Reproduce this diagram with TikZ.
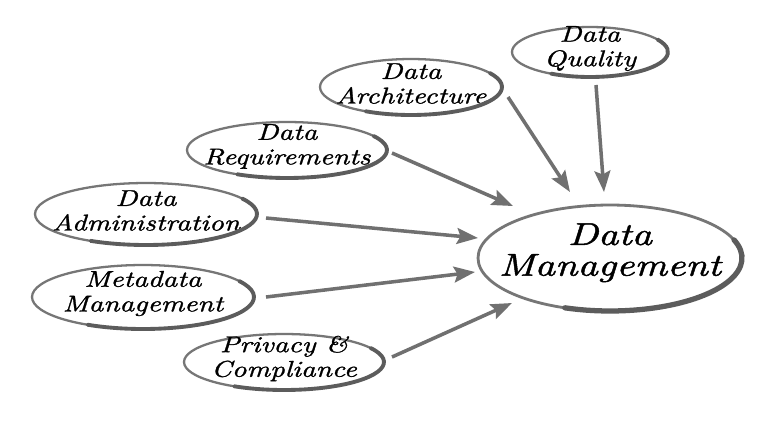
\documentclass[tikz,border=0pt]{standalone}
\usepackage{fontspec}
\newfontfamily\hand[FakeStretch=1.26,FakeBold=1.2]{lmroman10-italic.otf}
\newfontfamily\handbig[FakeStretch=1.26,FakeBold=1.4]{lmroman10-italic.otf}
\usetikzlibrary{shapes.geometric,arrows.meta}
\definecolor{rim}{HTML}{767676}
\definecolor{rimdark}{HTML}{5C5C5C}
\definecolor{arr}{HTML}{707070}
\begin{document}
\begin{tikzpicture}[x=0.02cm,y=-0.02cm,
  oval/.style={ellipse,draw=rim,line width=1.3pt,inner sep=0pt},
  txt/.style={align=center,inner sep=0pt,yshift=2pt,font=\hand\fontsize{13}{14}\selectfont},
  big/.style={align=center,inner sep=0pt,yshift=3pt,font=\handbig\fontsize{18}{17.5}\selectfont},
  crescent/.style={draw=rimdark,line width=2.2pt,line cap=round},
  link/.style={draw=arr,line width=2pt,-{Stealth[length=12pt,width=9pt,inset=2pt]}}]
\useasboundingbox (0,0) rectangle (768,434);
\fill[white] (0,0) rectangle (768,434);
\node[oval,minimum width=3.12cm,minimum height=1.0cm,
  label={[txt]center:Data\\Quality}] (q) at (590,52) {};
\node[oval,minimum width=3.64cm,minimum height=1.12cm,
  label={[txt]center:Data\\Architecture}] (a) at (411,87) {};
\node[oval,minimum width=4.0cm,minimum height=1.12cm,
  label={[txt]center:Data\\Requirements}] (r) at (287,150) {};
\node[oval,minimum width=4.44cm,minimum height=1.24cm,
  label={[txt]center:Data\\Administration}] (ad) at (146,214) {};
\node[oval,minimum width=4.44cm,minimum height=1.28cm,
  label={[txt]center:Metadata\\Management}] (m) at (143,297) {};
\node[oval,minimum width=4.0cm,minimum height=1.12cm,
  label={[txt]center:Privacy \&\\Compliance}] (p) at (284,362) {};
\node[oval,line width=1.6pt,minimum width=5.28cm,minimum height=2.12cm,
  label={[big]center:Data\\Management}] (dm) at (610,258) {};
% heavier lower-right rims
\draw[crescent] (q.center) ++(30:1.56cm and 0.5cm) arc[start angle=30,end angle=-120,x radius=1.56cm,y radius=0.5cm];
\draw[crescent] (a.center) ++(30:1.82cm and 0.56cm) arc[start angle=30,end angle=-120,x radius=1.82cm,y radius=0.56cm];
\draw[crescent] (r.center) ++(30:2.0cm and 0.56cm) arc[start angle=30,end angle=-120,x radius=2.0cm,y radius=0.56cm];
\draw[crescent] (ad.center) ++(30:2.22cm and 0.62cm) arc[start angle=30,end angle=-120,x radius=2.22cm,y radius=0.62cm];
\draw[crescent] (m.center) ++(30:2.22cm and 0.64cm) arc[start angle=30,end angle=-120,x radius=2.22cm,y radius=0.64cm];
\draw[crescent] (p.center) ++(30:2.0cm and 0.56cm) arc[start angle=30,end angle=-120,x radius=2.0cm,y radius=0.56cm];
\draw[crescent,line width=3pt] (dm.center) ++(20:2.64cm and 1.06cm) arc[start angle=20,end angle=-110,x radius=2.64cm,y radius=1.06cm];
\draw[link] ([shift={(6,33)}]q.center) -- ([shift={(-6,-66)}]dm.center);
\draw[link] ([shift={(97,10)}]a.center) -- ([shift={(-40,-66)}]dm.center);
\draw[link] ([shift={(105,3)}]r.center) -- ([shift={(-97,-52)}]dm.center);
\draw[link] ([shift={(120,4)}]ad.center) -- ([shift={(-132,-20)}]dm.center);
\draw[link] ([shift={(123,0)}]m.center) -- ([shift={(-135,14)}]dm.center);
\draw[link] ([shift={(108,-5)}]p.center) -- ([shift={(-98,45)}]dm.center);
\end{tikzpicture}
\end{document}
